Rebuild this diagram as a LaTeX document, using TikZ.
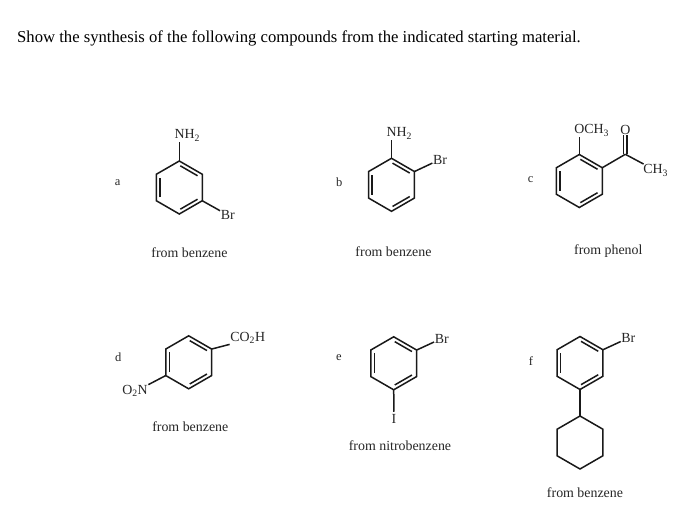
\documentclass[tikz,border=0pt]{standalone}
\usepackage{fontspec}
\setmainfont{Liberation Serif}
\usetikzlibrary{calc}
\tikzset{
  >=latex,
  bond/.style = {line width=1.5pt, line join=miter, color=black!90},
  inner bond/.style = {bond, shorten >=1.2pt, shorten <=1.2pt},
  atom/.style = {inner sep=0.5pt, yshift=-1pt, font=\fontsize{13.9}{15}\selectfont, color=black!85},
  note/.style = {inner sep=0.5pt, yshift=-0.3pt, font=\fontsize{13.9}{15}\selectfont, color=black!85},
  tag/.style = {inner sep=0.5pt, font=\fontsize{12.5}{14}\selectfont, color=black!85},
  title/.style = {anchor=west, inner sep=0, yshift=-2pt, font=\fontsize{16.66}{19}\selectfont},
}
\newcommand{\sixring}[2]{
  \coordinate (#1c) at (#2);
  \foreach \i/\ang in {1/-90,2/-30,3/30,4/90,5/150,6/210}
    \coordinate (#1\i) at ($(#1c)+(\ang:26.5)$);
  \draw[bond] (#11) -- (#12) -- (#13) -- (#14) -- (#15) -- (#16) -- cycle;
}
\newcommand{\doublebonds}[1]{
  \draw[inner bond] ($(#1c)!0.84!(#11)$) -- ($(#1c)!0.84!(#12)$);
  \draw[inner bond] ($(#1c)!0.84!(#13)$) -- ($(#1c)!0.84!(#14)$);
  \draw[inner bond] ($(#1c)!0.84!(#15)$) -- ($(#1c)!0.84!(#16)$);
}
\begin{document}
\begin{tikzpicture}[x=1pt,y=-1pt]
    \useasboundingbox (0,0) rectangle (698,518);
    \node[title] (task) at (17,36.5) {Show the synthesis of the following compounds from the indicated starting material.};
    % a
    \node[tag] (taga) at (117.7,182.7) {a};
    \sixring{a}{179.3,187.5}
    \doublebonds{a}
    \node[atom] (aNH) at (187.3,134.5) {NH\textsubscript{2}};
    \node[atom] (aBr) at (227.7,214) {Br};
    \draw[bond] (a1) -- (a1 |- aNH.south);
    \draw[bond] (a3) -- (aBr);
    \node[note] (froma) at (189.5,252) {from benzene};
    % b
    \node[tag] (tagb) at (339.3,182.3) {b};
    \sixring{b}{391.5,184.8}
    \doublebonds{b}
    \node[atom] (bNH) at (399.3,132.5) {NH\textsubscript{2}};
    \node[atom] (bBr) at (440,158.5) {Br};
    \draw[bond] (b1) -- (b1 |- bNH.south);
    \draw[bond] (b2) -- (bBr);
    \node[note] (fromb) at (393.5,251) {from benzene};
    % c
    \node[tag] (tagc) at (530.7,179.3) {c};
    \sixring{c}{579.3,181}
    \doublebonds{c}
    \node[atom] (cOM) at (591.7,129.5) {OCH\textsubscript{3}};
    \node[atom] (cO) at (625.3,128.5) {O};
    \node[atom] (cCH) at (655.7,169.5) {CH\textsubscript{3}};
    \coordinate (cC) at (625.3,154.3);
    \coordinate (cA) at (623.5,154.3);
    \coordinate (cB) at (627.2,154.3);
    \draw[bond] (c1) -- (c1 |- cOM.south);
    \draw[bond] (c2) -- (cC);
    \draw[bond] (cC) -- (cCH);
    \draw[bond] (cA) -- (cA |- cO.south);
    \draw[bond] (cB) -- (cB |- cO.south);
    \node[note] (fromc) at (608.3,251) {from phenol};
    % d
    \node[tag] (tagd) at (118.3,357.3) {d};
    \sixring{d}{188.7,362.3}
    \doublebonds{d}
    \node[atom] (dCO) at (247.7,337) {CO\textsubscript{2}H};
    \node[atom] (dNO) at (135,390) {O\textsubscript{2}N};
    \draw[bond] (d2) -- (dCO.south west);
    \draw[bond] (d5) -- (dNO.north east);
    \node[note] (fromd) at (190.3,426.5) {from benzene};
    % e
    \node[tag] (tage) at (339,357.7) {e};
    \sixring{e}{393.7,363.3}
    \doublebonds{e}
    \node[atom] (eBr) at (441.7,337.5) {Br};
    \node[atom] (eI) at (394,418) {I};
    \draw[bond] (e2) -- (eBr);
    \draw[bond, shorten >=2pt] (e4) -- (eI);
    \node[note] (frome) at (400,445) {from nitrobenzene};
    % f
    \node[tag] (tagf) at (531,361) {f};
    \sixring{f}{580,363}
    \doublebonds{f}
    \sixring{h}{580,442.5}
    \node[atom] (fBr) at (628.3,337) {Br};
    \draw[bond] (f2) -- (fBr);
    \draw[bond] (f4) -- (h1);
    \node[note] (fromf) at (585,492.3) {from benzene};
\end{tikzpicture}
\end{document}
